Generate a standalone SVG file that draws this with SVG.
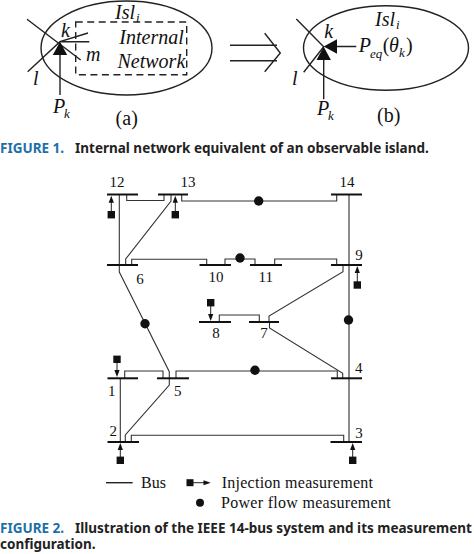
<svg xmlns="http://www.w3.org/2000/svg" width="474" height="554" viewBox="0 0 474 554">
<style>
text{font-family:"Liberation Serif","Times New Roman",serif;fill:#111}
.l{font-size:15px;text-anchor:middle}
.i{font-size:20px;font-style:italic}
.s{font-size:13px;font-style:italic}
.t{font-size:20px}
.g{font-size:16px}
.c{font-family:"Noto Sans","Open Sans",sans-serif;font-size:13.5px;font-weight:700;fill:#222}
.b{fill:#1c6fa8}
.bus{stroke:#111;stroke-width:2;fill:none}
.w{stroke:#333;stroke-width:1.1;fill:none}
.v{stroke:#666;stroke-width:1.5;fill:none}
.k{stroke:#222;stroke-width:1.4;fill:none}
.h{stroke:#222;stroke-width:1;fill:none}
</style>
<defs>
<g id="sq"><rect x="-3.7" y="-3.7" width="7.4" height="7.4" fill="#111"/></g>
<path id="dn" d="M0 0L-2.6 -7L2.6 -7Z" fill="#111"/>
<path id="up" d="M0 0L-2.6 7L2.6 7Z" fill="#111"/>
</defs>

<g id="fig1a">
<ellipse cx="126.5" cy="48" rx="85.5" ry="47" class="k"/>
<rect x="75.7" y="22" width="111" height="52.7" class="k" stroke-dasharray="7 4.5"/>
<path d="M27 19.3L80.7 60M27.7 71.7L60 41.7L88 33M60 41.7H89.3M60 95V50" class="k"/>
<path d="M60 41.7L52.8 55H67.2Z" fill="#111"/>
<text class="i" x="115" y="18.7">Isl</text><text class="s" x="136" y="22">i</text>
<text class="i" x="61" y="36.7">k</text>
<text class="i" x="86" y="60.7">m</text>
<text class="i" x="119.3" y="44">Internal</text>
<text class="i" x="117.5" y="68">Network</text>
<text class="i" x="33" y="85">l</text>
<text class="i" x="53" y="113">P</text><text class="s" x="64" y="118">k</text>
<text class="t" x="126.7" y="125" text-anchor="middle">(a)</text>
</g>

<g id="implies">
<path d="M230 45.3H277M230 60.7H277M264.7 33.3L280.3 53L264.7 71.7" class="k"/>
</g>

<g id="fig1b">
<ellipse cx="386" cy="48" rx="82.5" ry="42.3" class="k"/>
<path d="M296.3 19L323.7 46.7L303.7 72.3M323.7 99.3V55M356.3 46.5H332" class="k"/>
<path d="M323.7 46.7L316.5 60H330.9Z" fill="#111"/>
<path d="M323.7 46.5L337 39.3V53.7Z" fill="#111"/>
<text class="i" x="375" y="26">Isl</text><text class="s" x="396" y="29">i</text>
<text class="i" x="324.3" y="38.3">k</text>
<text class="i" x="358.7" y="51.7">P</text><text class="s" x="370" y="58">eq</text>
<text class="t" x="382.7" y="51.7">(</text><text class="i" x="389" y="51.7">θ</text><text class="s" x="399" y="57">k</text><text class="t" x="406" y="51.7">)</text>
<text class="i" x="292" y="85">l</text>
<text class="i" x="317" y="115">P</text><text class="s" x="328" y="120">k</text>
<text class="t" x="388.7" y="122" text-anchor="middle">(b)</text>
</g>

<text class="c" y="153"><tspan class="b" x="0">FIGURE 1.</tspan><tspan x="75">Internal network equivalent of an observable island.</tspan></text>

<g id="connectors">
<path class="v" d="M349 194.5V442"/>
<path class="w" d="M119.3 194.5V272L169.3 371.7V378"/>
<path class="w" d="M126.7 194.5V200.5H164V194.5"/>
<path class="w" d="M181.7 194.5V201H336.7V194.5"/>
<path class="w" d="M171 194.5V201L125.7 259V265"/>
<path class="w" d="M131.7 265V259.3H206.7V265"/>
<path class="w" d="M225 265V259H255V265"/>
<path class="w" d="M274.7 265V259H336.7V265"/>
<path class="w" d="M343 265V271.7L269 316V322"/>
<path class="w" d="M219.3 322V315H259.3V322"/>
<path class="w" d="M269.5 322V328L342.7 373.3V378"/>
<path class="w" d="M176 378V371H337.3V378"/>
<path class="w" d="M124.7 378V371H163V378"/>
<path class="w" d="M120.3 378V442"/>
<path class="w" d="M169.3 378V385L125.3 435V442"/>
<path class="w" d="M131.3 442V435.3H343.7V442"/>
</g>

<g id="flow-measurements" fill="#111">
<circle cx="258.7" cy="201" r="4.7"/>
<circle cx="240" cy="258" r="4.7"/>
<circle cx="348.5" cy="320" r="4.7"/>
<circle cx="145" cy="323.7" r="4.7"/>
<circle cx="255" cy="370.3" r="4.7"/>
</g>

<g id="injection-measurements">
<g id="inj12"><path class="h" d="M111.3 214.7V200"/><use href="#sq" x="111.3" y="214.7"/><use href="#up" x="111.3" y="195.7"/></g>
<g id="inj13"><path class="h" d="M175.3 214.7V200"/><use href="#sq" x="175.3" y="214.7"/><use href="#up" x="175.3" y="195.7"/></g>
<g id="inj9"><path class="h" d="M357.3 285V270"/><use href="#sq" x="357.3" y="285"/><use href="#up" x="357.3" y="266"/></g>
<g id="inj8"><path class="h" d="M210.7 302.7V316"/><use href="#sq" x="210.7" y="302.7"/><use href="#dn" x="210.7" y="321"/></g>
<g id="inj1"><path class="h" d="M117 359.3V372"/><use href="#sq" x="117" y="359.3"/><use href="#dn" x="117" y="377"/></g>
<g id="inj2"><path class="h" d="M120.3 460.3V448"/><use href="#sq" x="120.3" y="460.3"/><use href="#up" x="120.3" y="443"/></g>
<g id="inj3"><path class="h" d="M352.7 460.3V448"/><use href="#sq" x="352.7" y="460.3"/><use href="#up" x="352.7" y="443"/></g>
</g>

<g id="bus1"><path class="bus" d="M107.5 378.3H138"/><text class="l" x="111.7" y="396">1</text></g>
<g id="bus2"><path class="bus" d="M107.5 442H139"/><text class="l" x="113.3" y="436">2</text></g>
<g id="bus3"><path class="bus" d="M330.5 442H362"/><text class="l" x="359" y="438">3</text></g>
<g id="bus4"><path class="bus" d="M331 378.3H362"/><text class="l" x="358.7" y="372.7">4</text></g>
<g id="bus5"><path class="bus" d="M157 378.3H189"/><text class="l" x="177.7" y="396">5</text></g>
<g id="bus6"><path class="bus" d="M107 265H138"/><text class="l" x="140" y="284">6</text></g>
<g id="bus7"><path class="bus" d="M249 322H279"/><text class="l" x="264" y="338">7</text></g>
<g id="bus8"><path class="bus" d="M199 322H231"/><text class="l" x="216" y="338">8</text></g>
<g id="bus9"><path class="bus" d="M331 265H362"/><text class="l" x="359" y="260">9</text></g>
<g id="bus10"><path class="bus" d="M199.5 265H231"/><text class="l" x="216" y="282">10</text></g>
<g id="bus11"><path class="bus" d="M250 265H282"/><text class="l" x="265.7" y="282">11</text></g>
<g id="bus12"><path class="bus" d="M107 194.5H138"/><text class="l" x="117" y="186.5">12</text></g>
<g id="bus13"><path class="bus" d="M158 194.5H188"/><text class="l" x="188" y="186.5">13</text></g>
<g id="bus14"><path class="bus" d="M331 194.5H362"/><text class="l" x="347" y="186.5">14</text></g>

<g id="legend">
<path class="k" d="M106 482.7H132.7"/>
<text class="g" x="141" y="487.5">Bus</text>
<rect x="186.5" y="479.2" width="7" height="7" fill="#111"/>
<path class="h" d="M193 482.7H205"/><path d="M210.7 482.7L203.5 480.2V485.2Z" fill="#111"/>
<text class="g" x="221.7" y="487.5" textLength="151.3">Injection measurement</text>
<circle cx="200" cy="502.7" r="4" fill="#111"/>
<text class="g" x="221" y="507.7" textLength="169.7">Power flow measurement</text>
</g>

<text class="c" y="532.7"><tspan class="b" x="0">FIGURE 2.</tspan><tspan x="75">Illustration of the IEEE 14-bus system and its measurement</tspan></text>
<text class="c" x="0" y="549">configuration.</text>
</svg>
